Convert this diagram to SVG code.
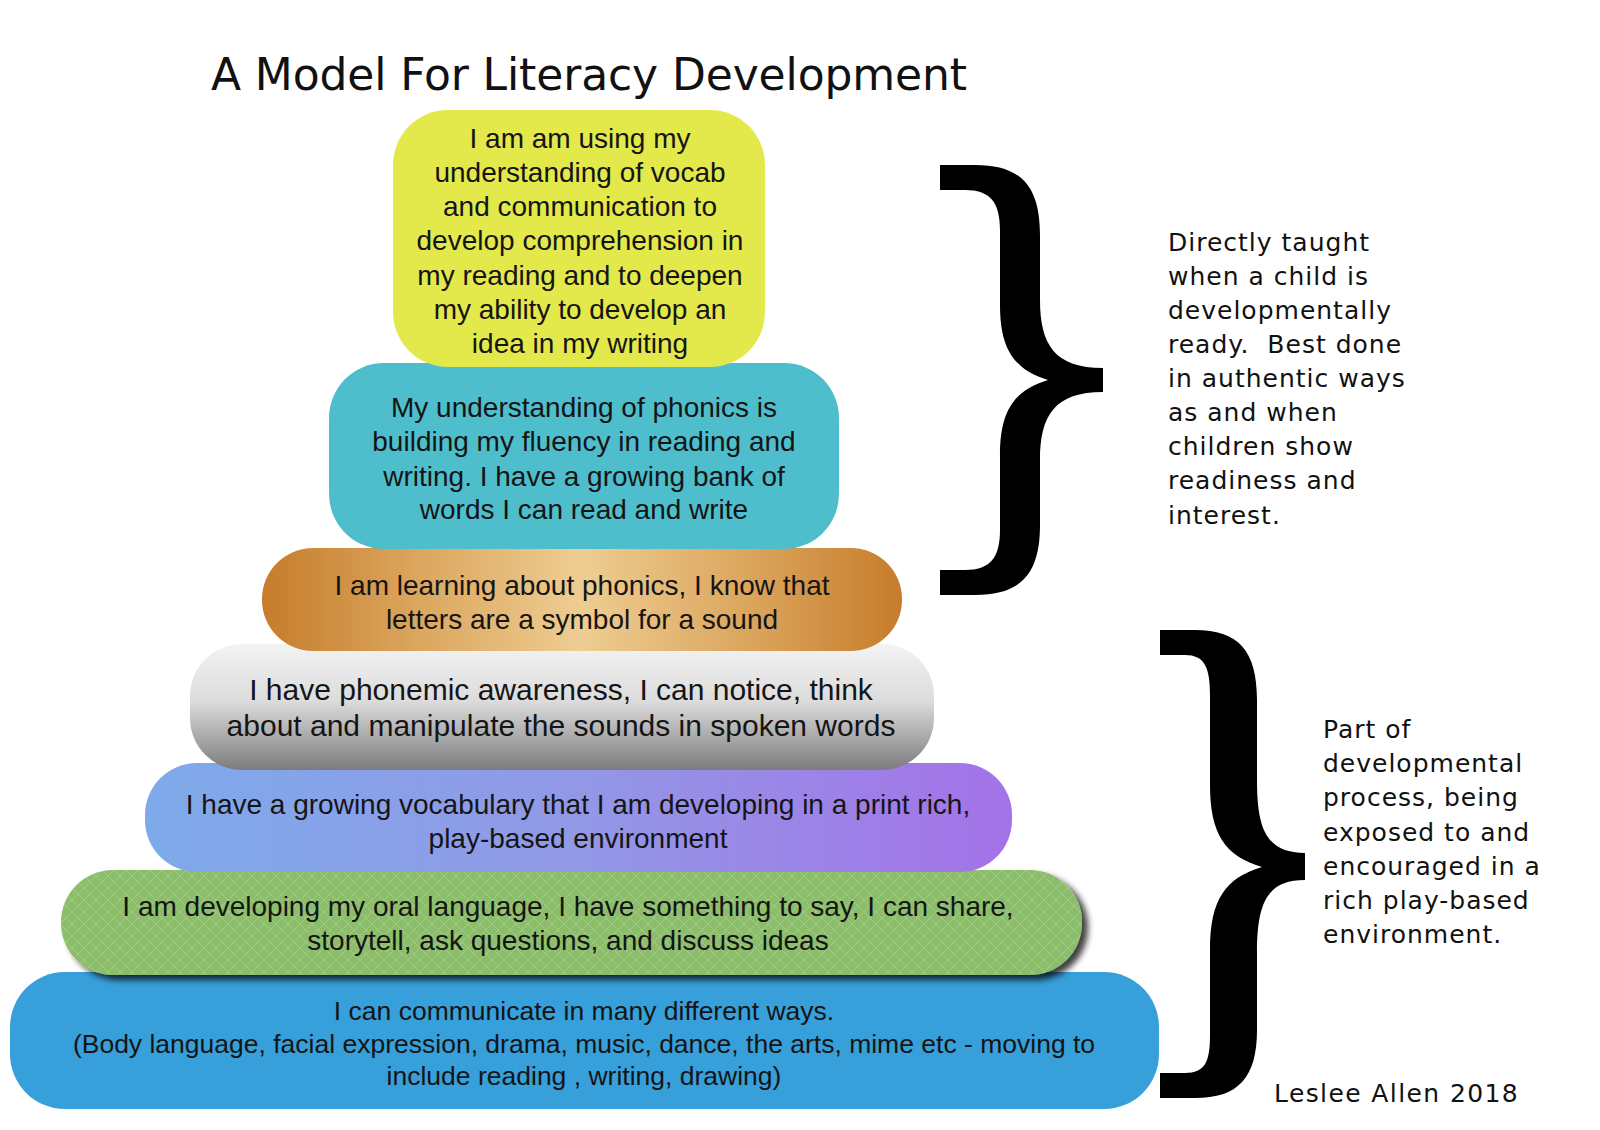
<svg xmlns="http://www.w3.org/2000/svg" width="1600" height="1130" viewBox="0 0 1600 1130">
<defs>
<style>
.bt{font-family:"Liberation Sans",Arial,sans-serif;font-size:28px;fill:#151515;text-anchor:middle}
.side{font-family:"DejaVu Sans","Noto Sans",sans-serif;font-size:25px;letter-spacing:1px;fill:#111}
.brace{fill:#000}
</style>
<linearGradient id="gOrange" x1="0" y1="0" x2="1" y2="0">
<stop offset="0" stop-color="#c67c2b"/>
<stop offset="0.25" stop-color="#dca75f"/>
<stop offset="0.5" stop-color="#eecd92"/>
<stop offset="0.75" stop-color="#dca75f"/>
<stop offset="1" stop-color="#c67c2b"/>
</linearGradient>
<linearGradient id="gGray" x1="0" y1="0" x2="0" y2="1">
<stop offset="0" stop-color="#f3f3f3"/>
<stop offset="0.45" stop-color="#dcdcdd"/>
<stop offset="1" stop-color="#7c7c7e"/>
</linearGradient>
<linearGradient id="gPurple" x1="0" y1="0" x2="1" y2="0">
<stop offset="0" stop-color="#7eaaea"/>
<stop offset="0.5" stop-color="#9298e6"/>
<stop offset="1" stop-color="#a472e8"/>
</linearGradient>
<pattern id="hatch" width="12" height="12" patternUnits="userSpaceOnUse">
<rect width="12" height="12" fill="#8bbd6b"/>
<path d="M0 0 L12 12 M12 0 L0 12" stroke="#a4cf8a" stroke-width="0.8" fill="none"/>
</pattern>
<filter id="shadow" x="-5%" y="-20%" width="115%" height="150%">
<feGaussianBlur in="SourceAlpha" stdDeviation="3"/>
<feOffset dx="6" dy="5" result="b"/>
<feComponentTransfer><feFuncA type="linear" slope="0.75"/></feComponentTransfer>
<feMerge><feMergeNode/><feMergeNode in="SourceGraphic"/></feMerge>
</filter>
</defs>
<rect width="1600" height="1130" fill="#ffffff"/>

<text id="title" x="211" y="90" font-family="DejaVu Sans, Noto Sans, sans-serif" font-size="44" fill="#111" textLength="756">A Model For Literacy Development</text>

<g id="n7">
<rect x="10" y="972" width="1149" height="137" rx="55" fill="#379fd9"/>
<text class="bt" style="font-size:26.5px" x="584" y="1020">I can communicate in many different ways.</text>
<text class="bt" style="font-size:26.5px" x="584" y="1053">(Body language, facial expression, drama, music, dance, the arts, mime etc - moving to</text>
<text class="bt" style="font-size:26.5px" x="584" y="1085">include reading , writing, drawing)</text>
</g>

<g id="n6">
<rect x="61" y="870" width="1021" height="105" rx="52" fill="url(#hatch)" filter="url(#shadow)"/>
<text class="bt" x="568" y="916">I am developing my oral language, I have something to say, I can share,</text>
<text class="bt" x="568" y="950">storytell, ask questions, and discuss ideas</text>
</g>

<g id="n5">
<rect x="145" y="763" width="867" height="109" rx="52" fill="url(#gPurple)"/>
<text class="bt" x="578" y="814">I have a growing vocabulary that I am developing in a print rich,</text>
<text class="bt" x="578" y="848">play-based environment</text>
</g>

<g id="n4">
<rect x="190" y="644" width="744" height="126" rx="52" fill="url(#gGray)"/>
<text class="bt" style="font-size:30px" x="561" y="700">I have phonemic awareness, I can notice, think</text>
<text class="bt" style="font-size:30px" x="561" y="736">about and manipulate the sounds in spoken words</text>
</g>

<g id="n3">
<rect x="262" y="548" width="640" height="103" rx="51" fill="url(#gOrange)"/>
<text class="bt" x="582" y="595">I am learning about phonics, I know that</text>
<text class="bt" x="582" y="629">letters are a symbol for a sound</text>
</g>

<g id="n2">
<rect x="329" y="363" width="510" height="186" rx="55" fill="#4ebecc"/>
<text class="bt" x="584" y="417">My understanding of phonics is</text>
<text class="bt" x="584" y="451">building my fluency in reading and</text>
<text class="bt" x="584" y="486">writing. I have a growing bank of</text>
<text class="bt" x="584" y="519">words I can read and write</text>
</g>

<g id="n1">
<rect x="393" y="110" width="372" height="257" rx="55" fill="#e3e84b"/>
<text class="bt" x="580" y="148">I am am using my</text>
<text class="bt" x="580" y="182">understanding of vocab</text>
<text class="bt" x="580" y="216">and communication to</text>
<text class="bt" x="580" y="250">develop comprehension in</text>
<text class="bt" x="580" y="285">my reading and to deepen</text>
<text class="bt" x="580" y="319">my ability to develop an</text>
<text class="bt" x="580" y="353">idea in my writing</text>
</g>

<g id="connectors">
<path id="brace1" class="brace" d="M940 165 L975 165 C1020 165 1040 185 1040 235 L1040 300 C1040 345 1055 368 1103 368 L1103 392 C1055 392 1040 415 1040 460 L1040 525 C1040 575 1020 595 975 595 L940 595 L940 570 L965 570 C990 570 1000 558 1000 530 L1000 455 C1000 410 1015 390 1048 380 C1015 370 1000 350 1000 305 L1000 230 C1000 202 990 190 965 190 L940 190 Z"/>
<path id="brace2" class="brace" d="M1160 630 L1195 630 C1238 630 1257 650 1257 700 L1257 780 C1257 830 1267 853 1305 853 L1305 880 C1267 880 1257 903 1257 953 L1257 1030 C1257 1078 1238 1098 1195 1098 L1160 1098 L1160 1073 L1185 1073 C1205 1073 1210 1062 1210 1035 L1210 950 C1210 900 1225 878 1262 867 C1225 856 1210 834 1210 785 L1210 695 C1210 668 1205 655 1185 655 L1160 655 Z"/>
</g>

<g id="note1">
<text class="side" x="1168" y="251">Directly taught</text>
<text class="side" x="1168" y="285">when a child is</text>
<text class="side" x="1168" y="319">developmentally</text>
<text class="side" x="1168" y="353" xml:space="preserve">ready.  Best done</text>
<text class="side" x="1168" y="387">in authentic ways</text>
<text class="side" x="1168" y="421">as and when</text>
<text class="side" x="1168" y="455">children show</text>
<text class="side" x="1168" y="489">readiness and</text>
<text class="side" x="1168" y="524">interest.</text>
</g>

<g id="note2">
<text class="side" x="1323" y="738">Part of</text>
<text class="side" x="1323" y="772">developmental</text>
<text class="side" x="1323" y="806">process, being</text>
<text class="side" x="1323" y="841">exposed to and</text>
<text class="side" x="1323" y="875">encouraged in a</text>
<text class="side" x="1323" y="909">rich play-based</text>
<text class="side" x="1323" y="943">environment.</text>
</g>

<text id="credit" class="side" x="1274" y="1102" style="letter-spacing:1.4px">Leslee Allen 2018</text>
</svg>
